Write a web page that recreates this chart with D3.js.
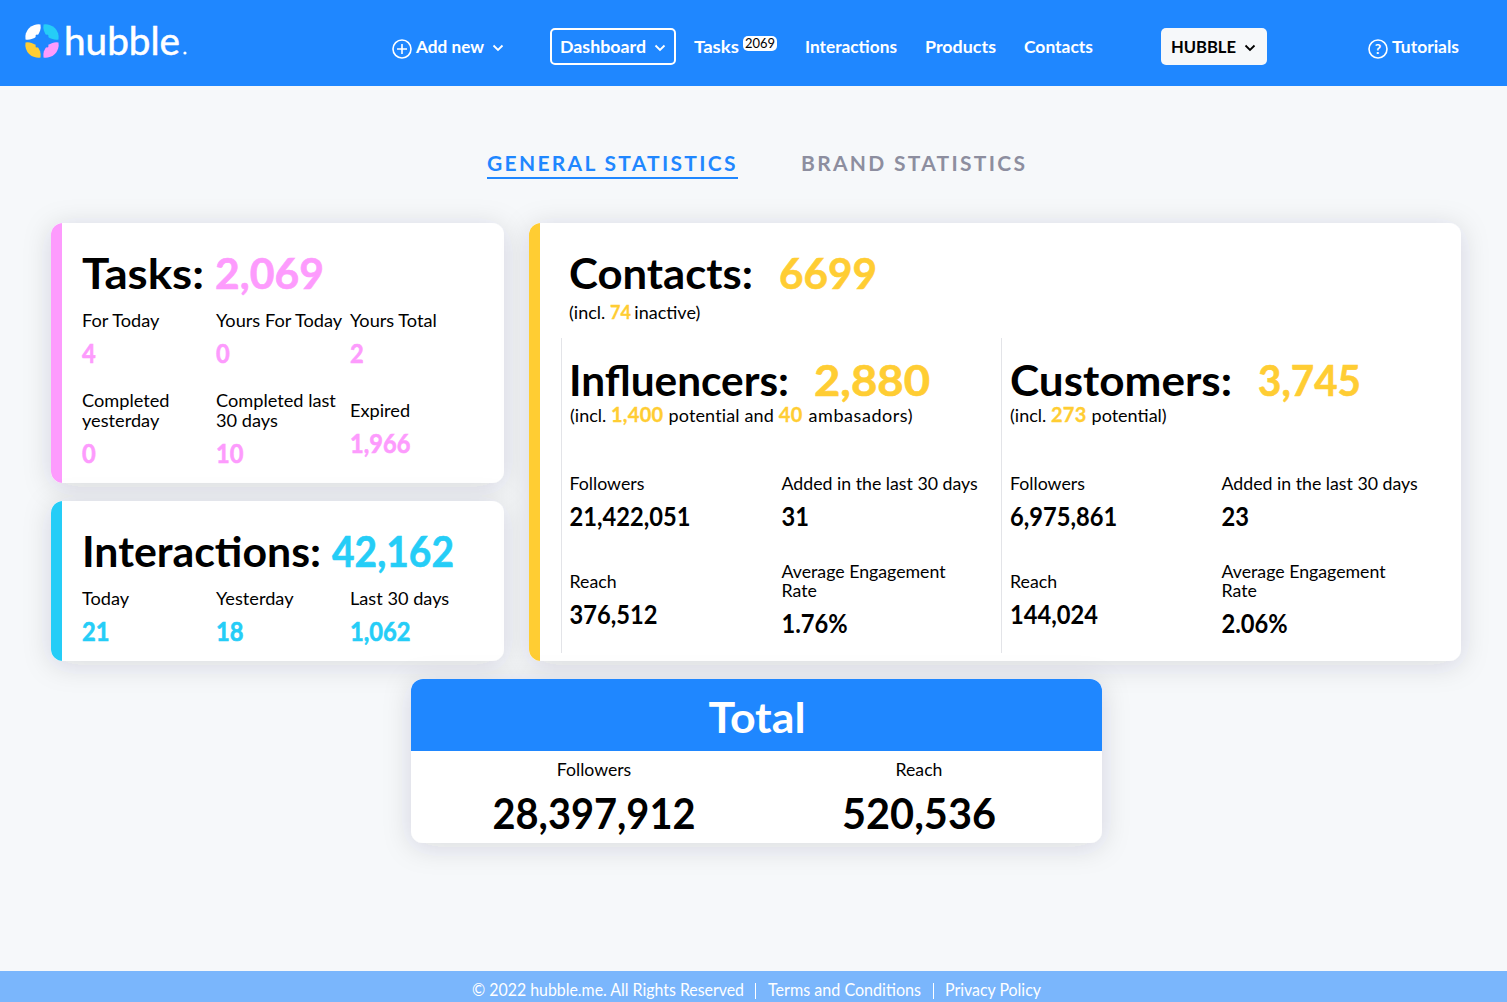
<!DOCTYPE html>
<html>
<head>
<meta charset="utf-8">
<script src="https://cdn.jsdelivr.net/npm/d3@7"></script>
<style>
  html, body { margin: 0; padding: 0; background: #f6f8fa; overflow: hidden; }
  svg { display: block; }
  text { font-family: Lato, "Noto Sans", sans-serif; }
</style>
</head>
<body>
<svg id="page"></svg>
<script>
const navItems = ["Add new", "Dashboard", "Tasks", "Interactions", "Products", "Contacts"]
const tabs = ["GENERAL STATISTICS", "BRAND STATISTICS"]

const taskLabels = ["For Today", "Yours For Today", "Yours Total", "Completed|yesterday", "Completed last|30 days", "Expired"]
const taskValues = ["4", "0", "2", "0", "10", "1,966"]
const interactionLabels = ["Today", "Yesterday", "Last 30 days"]
const interactionValues = ["21", "18", "1,062"]

const statLabels = ["Followers", "Added in the last 30 days", "Reach", "Average Engagement|Rate"]
const influencerValues = ["21,422,051", "31", "376,512", "1.76%"]
const customerValues = ["6,975,861", "23", "144,024", "2.06%"]

const totalLabels = ["Followers", "Reach"]
const totalValues = ["28,397,912", "520,536"]
const footerItems = ["© 2022 hubble.me. All Rights Reserved", "Terms and Conditions", "Privacy Policy"]

const blue = "#1f87ff", pink = "#fd9bfd", cyan = "#25cdf7", yellow = "#ffcd33"

const svg = d3.select("#page").attr("width", 1507).attr("height", 1002)

const shadow = svg.append("defs").append("filter").attr("id", "shadow")
  .attr("x", "-10%").attr("y", "-15%").attr("width", "120%").attr("height", "135%")
shadow.append("feDropShadow").attr("dx", 0).attr("dy", 4).attr("stdDeviation", 14)
  .attr("flood-color", "#20283c").attr("flood-opacity", 0.15)

svg.append("rect").attr("width", 1507).attr("height", 1002).attr("fill", "#f6f8fa")

// text helper, width or squeeze fits the string to what the picture shows
function label(str, x, y, o = {}) {
  const t = svg.append("text")
    .attr("x", x).attr("y", y)
    .attr("font-size", o.size || 18)
    .attr("font-weight", o.weight || 400)
    .attr("fill", o.color || "#000")
    .attr("text-anchor", o.anchor || "start")
    .text(str)
  const fitted = o.width || (o.squeeze && t.node().getComputedTextLength() * o.squeeze)
  if (fitted) t.attr("textLength", fitted).attr("lengthAdjust", "spacingAndGlyphs")
  if (o.spacing) t.attr("letter-spacing", o.spacing)
  if (o.heavy) t.attr("stroke", o.color).attr("stroke-width", o.heavy)
  return t
}

function number(parent, str, size = 20) {
  parent.append("tspan")
    .attr("font-size", size).attr("font-weight", 700).attr("fill", yellow)
    .attr("stroke", yellow).attr("stroke-width", 0.3)
    .attr("letter-spacing", 0.3)
    .text(str)
}

function chevron(x, y, color) {
  svg.append("path")
    .attr("d", d3.line()([[x - 4.5, y - 2.5], [x, y + 2], [x + 4.5, y - 2.5]]))
    .attr("fill", "none").attr("stroke", color).attr("stroke-width", 1.8)
}

function card(x, y, w, h, color) {
  const clipId = "clip" + x + "-" + y
  svg.append("clipPath").attr("id", clipId).append("rect")
    .attr("x", x).attr("y", y).attr("width", w).attr("height", h).attr("rx", 12)
  svg.append("rect").attr("x", x).attr("y", y).attr("width", w).attr("height", h).attr("rx", 12)
    .attr("fill", "#fff").attr("filter", "url(#shadow)")
  svg.append("rect").attr("x", x).attr("y", y).attr("width", 11).attr("height", h)
    .attr("fill", color).attr("clip-path", `url(#${clipId})`)
}

// header
svg.append("rect").attr("width", 1507).attr("height", 86).attr("fill", blue)

const petalColors = [cyan, pink, yellow, "#fff"]
const petal = "M1.5,-16.5 A13,13 0 0 1 16.5,-1.5 A13,13 0 0 1 1.5,-16.5 Z"
const logo = svg.append("g").attr("transform", "translate(42,41)")
logo.selectAll("path").data(petalColors).join("path")
  .attr("d", petal).attr("fill", d => d)
  .attr("transform", (d, i) => `rotate(${i * 90})`)
logo.selectAll("circle").data(petalColors).join("circle")
  .attr("cx", 5).attr("cy", -5).attr("r", 1.5).attr("fill", blue)
  .attr("transform", (d, i) => `rotate(${i * 90})`)
label("hubble", 64, 55, { size: 38, weight: 400, color: "#fff", width: 116, heavy: 0.5 })
svg.append("circle").attr("cx", 185).attr("cy", 53).attr("r", 1.6).attr("fill", "#fff")

const navX = d3.scaleOrdinal().domain(navItems).range([416, 560, 694, 805, 925, 1024])
const navW = d3.scaleOrdinal().domain(navItems).range([68, 86, 45, 92, 71, 69])
navItems.forEach(d => label(d, navX(d), 53, { size: 17, weight: 700, color: "#fff", width: navW(d) }))

svg.append("circle").attr("cx", 402).attr("cy", 49).attr("r", 9).attr("fill", "none").attr("stroke", "#fff").attr("stroke-width", 1.6)
svg.append("path").attr("d", "M397,49H407M402,44V54").attr("stroke", "#fff").attr("stroke-width", 1.6)
chevron(498, 48, "#fff")
svg.append("rect").attr("x", 551).attr("y", 29).attr("width", 124).attr("height", 35).attr("rx", 4)
  .attr("fill", "none").attr("stroke", "#fff").attr("stroke-width", 2)
chevron(660, 48, "#fff")
svg.append("rect").attr("x", 743).attr("y", 36).attr("width", 34).attr("height", 15).attr("rx", 5).attr("fill", "#fff")
label("2069", 760, 48, { size: 13, anchor: "middle", width: 30 })
svg.append("rect").attr("x", 1161).attr("y", 28).attr("width", 106).attr("height", 37).attr("rx", 5).attr("fill", "#f6f8fa")
label("HUBBLE", 1171, 53, { size: 17, weight: 700, width: 65 })
chevron(1250, 48, "#000")
svg.append("circle").attr("cx", 1378).attr("cy", 49).attr("r", 9).attr("fill", "none").attr("stroke", "#fff").attr("stroke-width", 1.6)
label("?", 1378, 54, { size: 14, weight: 700, anchor: "middle", color: "#fff" })
label("Tutorials", 1392, 53, { size: 17, weight: 700, color: "#fff", width: 67 })

// tabs
label(tabs[0], 487, 171, { size: 21, weight: 700, color: blue, spacing: 2.3 })
svg.append("rect").attr("x", 487).attr("y", 177).attr("width", 251).attr("height", 2).attr("fill", blue)
label(tabs[1], 801, 171, { size: 21, weight: 700, color: "#8d8e9f", spacing: 2.3 })

// tasks card
card(51, 223, 453, 260, pink)
label("Tasks:", 82, 289, { size: 42, weight: 700, width: 122 })
label("2,069", 215, 289, { size: 42, weight: 700, color: pink, width: 109, heavy: 0.6 })
const gridX = d3.scalePoint().domain([0, 1, 2]).range([82, 350])
const taskLabelY = [327, 327, 327, 407, 407, 417]
const taskValueY = [363, 363, 363, 463, 463, 453]
taskLabels.forEach((d, i) => {
  d.split("|").forEach((line, j) => label(line, gridX(i % 3), taskLabelY[i] + j * 20, { squeeze: 1.01 }))
  label(taskValues[i], gridX(i % 3), taskValueY[i], { size: 26, weight: 700, color: pink, squeeze: 0.91, heavy: 0.6 })
})

// interactions card
card(51, 501, 453, 160, cyan)
label("Interactions:", 82, 567, { size: 42, weight: 700, width: 239 })
label("42,162", 332, 567, { size: 42, weight: 700, color: cyan, width: 122, heavy: 0.6 })
interactionLabels.forEach((d, i) => {
  label(d, gridX(i), 605, { squeeze: 1.01 })
  label(interactionValues[i], gridX(i), 641, { size: 26, weight: 700, color: cyan, squeeze: 0.91, heavy: 0.6 })
})

// contacts card
card(529, 223, 932, 438, yellow)
label("Contacts:", 569, 289, { size: 42, weight: 700, width: 184 })
label("6699", 779, 289, { size: 42, weight: 700, color: yellow, width: 98, heavy: 0.6 })
const contactsNote = label("(incl. ", 569, 319)
number(contactsNote, "74", 18)
contactsNote.append("tspan").attr("dx", 3).text("inactive)")

d3.range(2).forEach(i => {
  const lineX = d3.scalePoint().domain([0, 1]).range([561.5, 1001.5])
  svg.append("line").attr("x1", lineX(i)).attr("x2", lineX(i)).attr("y1", 338).attr("y2", 653)
    .attr("stroke", "#e3e4e8")
})

label("Influencers:", 569, 396, { size: 42, weight: 700, width: 220 })
label("2,880", 814, 396, { size: 42, weight: 700, color: yellow, width: 116, heavy: 0.6 })
const infNote = label("(incl. ", 570, 422)
number(infNote, "1,400")
infNote.append("tspan").attr("dx", 5).attr("letter-spacing", 0.15).text("potential and ")
number(infNote, "40")
infNote.append("tspan").attr("dx", 6).attr("letter-spacing", 0.55).text("ambasadors)")

label("Customers:", 1010, 396, { size: 42, weight: 700, width: 222 })
label("3,745", 1258, 396, { size: 42, weight: 700, color: yellow, width: 103, heavy: 0.6 })
const cusNote = label("(incl. ", 1010, 422)
number(cusNote, "273")
cusNote.append("tspan").attr("dx", 5).text("potential)")

const statLabelY = [490, 490, 588, 578]
const statValueY = [526, 526, 624, 633]
function statBlock(left, right, values) {
  const x = d3.scalePoint().domain([0, 1]).range([left, right])
  statLabels.forEach((d, i) => {
    d.split("|").forEach((line, j) => label(line, x(i % 2), statLabelY[i] + j * 19, { squeeze: 0.985 }))
    label(values[i], x(i % 2), statValueY[i], { size: 26, weight: 700, squeeze: 0.91 })
  })
}
statBlock(569.5, 781.5, influencerValues)
statBlock(1010, 1221.5, customerValues)

// total card
const totalClip = svg.append("clipPath").attr("id", "totalClip")
totalClip.append("rect").attr("x", 411).attr("y", 679).attr("width", 691).attr("height", 164).attr("rx", 12)
svg.append("rect").attr("x", 411).attr("y", 679).attr("width", 691).attr("height", 164).attr("rx", 12)
  .attr("fill", "#fff").attr("filter", "url(#shadow)")
svg.append("rect").attr("x", 411).attr("y", 679).attr("width", 691).attr("height", 72)
  .attr("fill", blue).attr("clip-path", "url(#totalClip)")
label("Total", 757, 733, { size: 42, weight: 700, color: "#fff", anchor: "middle", width: 97 })
const totalX = d3.scalePoint().domain(totalLabels).range([594, 919])
totalLabels.forEach((d, i) => {
  label(d, totalX(d), 776, { anchor: "middle", squeeze: 0.98 })
  label(totalValues[i], totalX(d), 829, { size: 42, weight: 700, anchor: "middle", width: i ? 154 : 203 })
})

// footer
svg.append("rect").attr("y", 971).attr("width", 1507).attr("height", 31).attr("fill", "#7ab6fc")
const footerX = d3.scaleOrdinal().domain(footerItems).range([472, 768, 945])
const footerW = d3.scaleOrdinal().domain(footerItems).range([272, 153, 96])
footerItems.forEach(d => label(d, footerX(d), 996, { size: 17, color: "#fff", width: footerW(d) }))
d3.range(2).forEach(i => {
  const sepX = d3.scalePoint().domain([0, 1]).range([755.5, 933.5])
  svg.append("line").attr("x1", sepX(i)).attr("x2", sepX(i)).attr("y1", 983).attr("y2", 999).attr("stroke", "#fff")
})
</script>
</body>
</html>
